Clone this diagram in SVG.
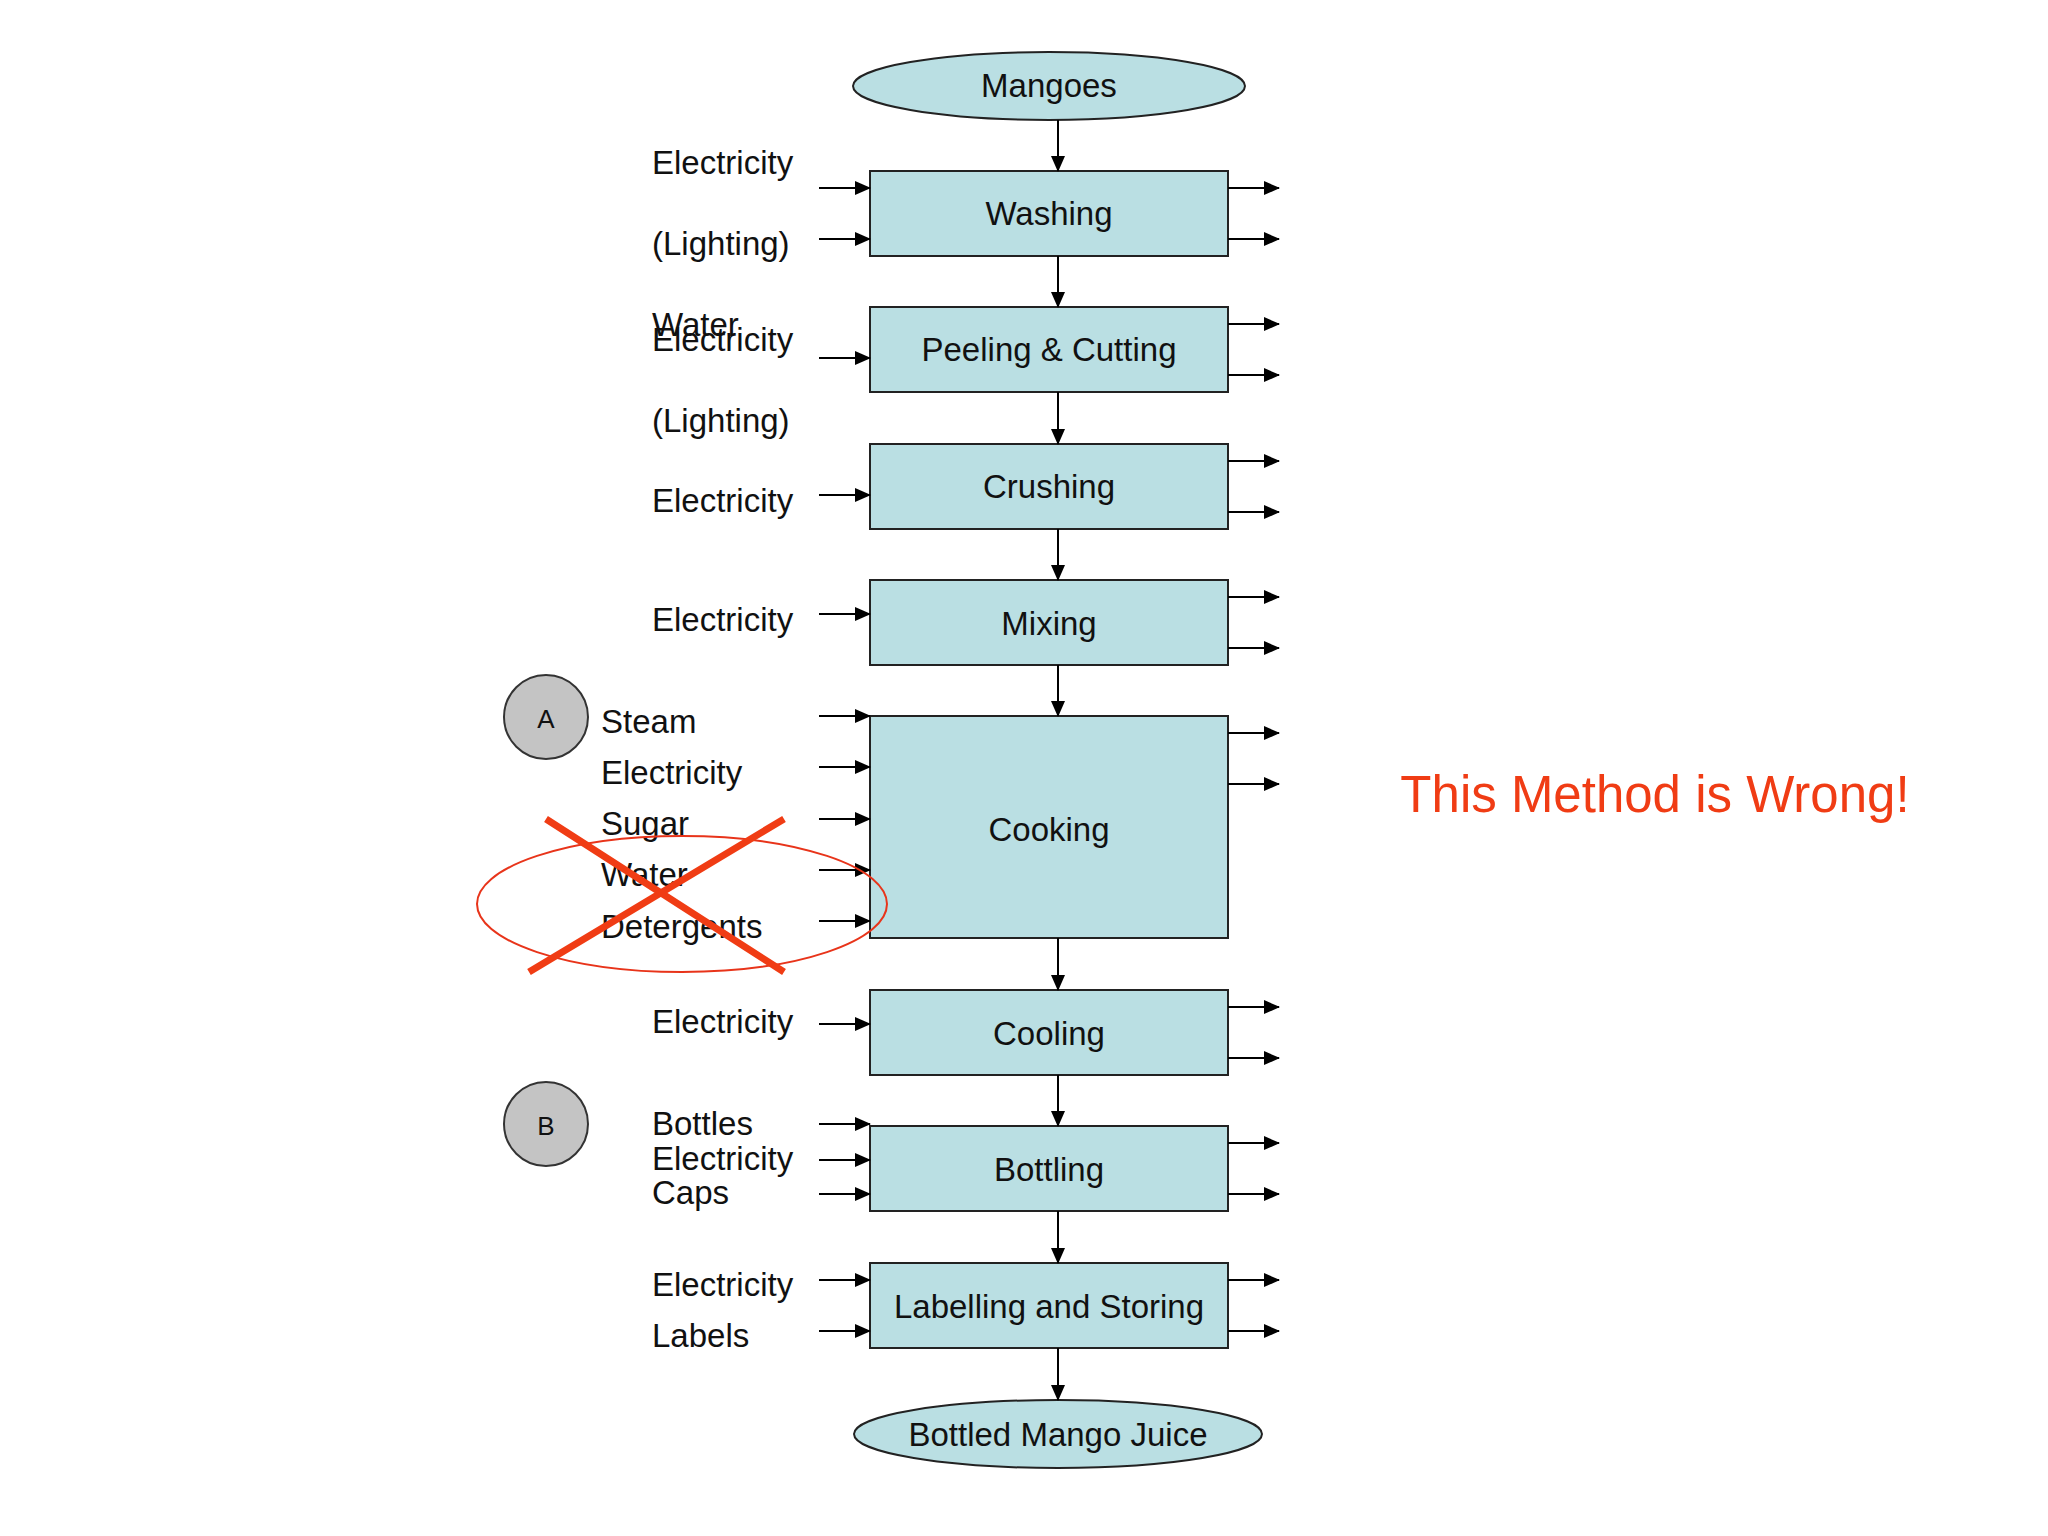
<svg xmlns="http://www.w3.org/2000/svg" width="2048" height="1536" viewBox="0 0 2048 1536">
<style>
.n{fill:#badfe3;stroke:#222;stroke-width:2}
.t{font-family:"Liberation Sans",Arial,sans-serif;font-size:33px;fill:#111}
.c{text-anchor:middle}
</style>
<defs>
<marker id="b" markerWidth="16" markerHeight="16" refX="15" refY="8" orient="auto" markerUnits="userSpaceOnUse" viewBox="0 0 16 16"><path d="M0,1 L16,8 L0,15z" fill="#000"/></marker></defs>
<rect width="2048" height="1536" fill="#fff"/>
<g id="mangoes"><ellipse class="n" cx="1049" cy="86" rx="196" ry="34"/><text class="t c" x="1049" y="97">Mangoes</text></g>
<g id="washing"><rect class="n" x="870" y="171" width="358" height="85"/><text class="t c" x="1049" y="225">Washing</text></g>
<g id="peeling"><rect class="n" x="870" y="307" width="358" height="85"/><text class="t c" x="1049" y="361">Peeling &amp; Cutting</text></g>
<g id="crushing"><rect class="n" x="870" y="444" width="358" height="85"/><text class="t c" x="1049" y="498">Crushing</text></g>
<g id="mixing"><rect class="n" x="870" y="580" width="358" height="85"/><text class="t c" x="1049" y="635">Mixing</text></g>
<g id="cooking"><rect class="n" x="870" y="716" width="358" height="222"/><text class="t c" x="1049" y="841">Cooking</text></g>
<g id="cooling"><rect class="n" x="870" y="990" width="358" height="85"/><text class="t c" x="1049" y="1045">Cooling</text></g>
<g id="bottling"><rect class="n" x="870" y="1126" width="358" height="85"/><text class="t c" x="1049" y="1181">Bottling</text></g>
<g id="labelling"><rect class="n" x="870" y="1263" width="358" height="85"/><text class="t c" x="1049" y="1318">Labelling and Storing</text></g>
<g id="bottled"><ellipse class="n" cx="1058" cy="1434" rx="204" ry="34"/><text class="t c" x="1058" y="1446">Bottled Mango Juice</text></g>
<g id="circleA"><circle cx="546" cy="717" r="42" fill="#c4c4c4" stroke="#333" stroke-width="2"/><text class="t c" x="546" y="728" style="font-size:26px">A</text></g>
<g id="circleB"><circle cx="546" cy="1124" r="42" fill="#c4c4c4" stroke="#333" stroke-width="2"/><text class="t c" x="546" y="1135" style="font-size:26px">B</text></g>
<g id="labels" class="t">
<text x="652" y="174">Electricity</text><text x="652" y="255">(Lighting)</text>
<text x="652" y="336">Water</text><text x="652" y="351">Electricity</text>
<text x="652" y="432">(Lighting)</text><text x="652" y="512">Electricity</text>
<text x="652" y="631">Electricity</text>
<text x="601" y="733">Steam</text><text x="601" y="784">Electricity</text><text x="601" y="835">Sugar</text><text x="601" y="886">Water</text><text x="601" y="938">Detergents</text>
<text x="652" y="1033">Electricity</text>
<text x="652" y="1135">Bottles</text><text x="652" y="1170">Electricity</text><text x="652" y="1204">Caps</text>
<text x="652" y="1296">Electricity</text><text x="652" y="1347">Labels</text>
</g>
<g id="connectors" stroke="#000" stroke-width="2" fill="none" marker-end="url(#b)">
<path d="M1058 120V171"/><path d="M1058 256V307"/><path d="M1058 392V444"/><path d="M1058 529V580"/><path d="M1058 665V716"/><path d="M1058 938V990"/><path d="M1058 1075V1126"/><path d="M1058 1211V1263"/><path d="M1058 1348V1400"/>
<path d="M819 188H870"/><path d="M819 239H870"/><path d="M819 358H870"/><path d="M819 495H870"/><path d="M819 614H870"/>
<path d="M819 716H870"/><path d="M819 767H870"/><path d="M819 819H870"/><path d="M819 870H870"/><path d="M819 921H870"/>
<path d="M819 1024H870"/><path d="M819 1124H870"/><path d="M819 1160H870"/><path d="M819 1194H870"/><path d="M819 1280H870"/><path d="M819 1331H870"/>
<path d="M1228 188H1279"/><path d="M1228 239H1279"/><path d="M1228 324H1279"/><path d="M1228 375H1279"/><path d="M1228 461H1279"/><path d="M1228 512H1279"/>
<path d="M1228 597H1279"/><path d="M1228 648H1279"/><path d="M1228 733H1279"/><path d="M1228 784H1279"/><path d="M1228 1007H1279"/><path d="M1228 1058H1279"/>
<path d="M1228 1143H1279"/><path d="M1228 1194H1279"/><path d="M1228 1280H1279"/><path d="M1228 1331H1279"/>
</g>
<g id="cross">
<ellipse cx="682" cy="904" rx="205" ry="68" fill="none" stroke="#e8341a" stroke-width="2"/>
<path d="M546 819L784 972M784 819L529 972" stroke="#f03c14" stroke-width="7" fill="none"/>
</g>
<text x="1655" y="812" text-anchor="middle" style="font-family:'Liberation Sans',Arial,sans-serif;font-size:51px;fill:#f03c14">This Method is Wrong!</text>
</svg>
